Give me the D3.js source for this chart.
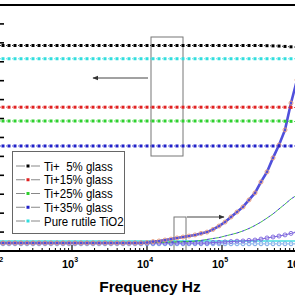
<!DOCTYPE html>
<html><head><meta charset="utf-8">
<script src="https://cdn.jsdelivr.net/npm/d3@7"></script>
<style>html,body{margin:0;padding:0;background:#fff;overflow:hidden}svg{display:block}</style>
</head><body>
<script>
// ---------- data ----------
const logF = [2.00,2.08,2.16,2.24,2.32,2.40,2.48,2.56,2.64,2.72,2.80,2.88,2.96,3.04,3.12,3.20,3.28,3.36,3.44,3.52,3.60,3.68,3.76,3.84,3.92,4.00,4.08,4.16,4.24,4.32,4.40,4.48,4.56,4.64,4.72,4.80,4.88,4.96,5.04,5.12,5.20,5.28,5.36,5.44,5.52,5.60,5.68,5.76,5.84,5.92,6.00];
const legendLabels = ["Ti+  5% glass","Ti+15% glass","Ti+25% glass","Ti+35% glass","Pure rutile TiO2"];
const seriesColors = ["#000000","#e02020","#2ed02e","#2020c8","#30dede"];
const eps5  = [108.6,108.6,108.6,108.6,108.6,108.6,108.6,108.6,108.6,108.6,108.6,108.6,108.6,108.6,108.6,108.6,108.6,108.6,108.6,108.6,108.6,108.6,108.6,108.6,108.6,108.6,108.6,108.6,108.6,108.6,108.6,108.6,108.6,108.6,108.6,108.6,108.6,108.6,108.6,108.6,108.6,108.6,108.6,108.6,108.6,108.5,108.4,108.3,108.1,107.9,107.7];
const eps15 = [76.0,76.0,76.0,76.0,76.0,76.0,76.0,76.0,76.0,76.0,76.0,76.0,76.0,76.0,76.0,76.0,76.0,76.0,76.0,76.0,76.0,76.0,76.0,76.0,76.0,76.0,76.0,76.0,76.0,76.0,76.0,76.0,76.0,76.0,76.0,76.0,76.0,76.0,76.0,76.0,76.0,76.0,76.0,76.0,76.0,76.0,76.0,76.0,76.0,75.9,75.8];
const eps25 = [68.7,68.7,68.7,68.7,68.7,68.7,68.7,68.7,68.7,68.7,68.7,68.7,68.7,68.7,68.7,68.7,68.7,68.7,68.7,68.7,68.7,68.7,68.7,68.7,68.7,68.7,68.7,68.7,68.7,68.7,68.7,68.7,68.7,68.7,68.7,68.7,68.7,68.7,68.7,68.7,68.7,68.7,68.7,68.7,68.7,68.7,68.7,68.7,68.6,68.5,68.4];
const eps35 = [55.5,55.5,55.5,55.5,55.5,55.5,55.5,55.5,55.5,55.5,55.5,55.5,55.5,55.5,55.5,55.5,55.5,55.5,55.5,55.5,55.5,55.5,55.5,55.5,55.5,55.5,55.5,55.5,55.5,55.5,55.5,55.5,55.5,55.5,55.5,55.5,55.5,55.5,55.5,55.5,55.5,55.5,55.5,55.5,55.5,55.5,55.5,55.5,55.5,55.5,55.5];
const epsRut = [101.6,101.6,101.6,101.6,101.6,101.6,101.6,101.6,101.6,101.6,101.6,101.6,101.6,101.6,101.6,101.6,101.6,101.6,101.6,101.6,101.6,101.6,101.6,101.6,101.6,101.6,101.6,101.6,101.6,101.6,101.6,101.6,101.6,101.6,101.6,101.6,101.6,101.6,101.6,101.6,101.6,101.6,101.6,101.6,101.6,101.6,101.6,101.6,101.6,101.6,101.6];
// lower (loss) curves
const lossA = [4.2,4.2,4.2,4.2,4.2,4.2,4.2,4.2,4.2,4.2,4.2,4.2,4.2,4.2,4.2,4.2,4.2,4.2,4.2,4.2,4.2,4.2,4.2,4.2,4.3,4.5,5.0,5.3,5.8,6.3,6.9,7.4,7.9,8.5,9.3,10.0,11.4,13.2,15.3,18.0,20.6,23.3,27.0,30.7,36.5,41.8,49.2,56.0,64.0,78.2,90.4];
const lossB = [4.2,4.2,4.2,4.2,4.2,4.2,4.2,4.2,4.2,4.2,4.2,4.2,4.2,4.2,4.2,4.2,4.2,4.2,4.2,4.2,4.2,4.2,4.2,4.2,4.2,4.3,4.4,4.5,4.6,4.7,4.8,4.9,5.0,5.2,5.6,6.1,6.6,7.1,7.9,8.7,9.5,10.6,11.9,13.5,15.3,17.4,19.6,22.2,24.8,27.5,29.6];
const lossC = [4.2,4.2,4.2,4.2,4.2,4.2,4.2,4.2,4.2,4.2,4.2,4.2,4.2,4.2,4.2,4.2,4.2,4.2,4.2,4.2,4.2,4.2,4.2,4.2,4.2,4.2,4.2,4.2,4.2,4.2,4.2,4.2,4.2,4.2,4.2,4.2,4.5,4.6,4.8,5.0,5.2,5.3,5.6,5.8,6.3,6.9,7.4,7.9,8.5,9.3,10.0];
const lossD = [5.3,5.3,5.3,5.3,5.3,5.3,5.3,5.3,5.3,5.3,5.3,5.3,5.3,5.3,5.3,5.3,5.3,5.3,5.3,5.3,5.3,5.3,5.3,5.3,5.3,5.3,5.3,5.3,5.3,5.3,5.3,5.3,5.3,5.3,5.3,5.3,5.3,5.3,5.3,5.3,5.3,5.3,5.3,5.3,5.3,5.3,5.3,5.3,5.3,5.3,5.3];
const lossE = [3.8,3.8,3.8,3.8,3.8,3.8,3.8,3.8,3.8,3.8,3.8,3.8,3.8,3.8,3.8,3.8,3.8,3.8,3.8,3.8,3.8,3.8,3.8,3.8,3.8,3.8,3.8,3.8,3.8,3.8,3.8,3.8,3.8,3.8,3.8,3.8,3.8,3.8,3.8,3.8,3.8,3.8,3.8,3.8,3.8,3.8,3.8,3.8,3.8,3.8,3.8];
const xMajorExp = [2,3,4,5,6];
const yTickVals = [0,10,20,30,40,50,60,70,80,90,100,110,120,130];
const xTitle = "Frequency Hz";

// ---------- layout ----------
const W = 295, H = 295;
const svg = d3.select("body").append("svg").attr("width", W).attr("height", H);
const freq = logF.map(e => Math.pow(10, e));
const x = d3.scaleLog().domain([1e2, 1e6]).range([-3, 297]);
const y = d3.scaleLinear().domain([0, 130]).range([251, 5]);

// left ticks (inward)
svg.append("g").selectAll("line").data(yTickVals).join("line")
  .attr("x1", -2).attr("x2", 4).attr("y1", d => y(d)).attr("y2", d => y(d))
  .attr("stroke", "#000").attr("stroke-width", 1.6);

// x minor/major ticks (inward)
const minor = [];
for (let e = 2; e < 6; e++) for (let m = 2; m <= 9; m++) minor.push(m * Math.pow(10, e));
svg.append("g").selectAll("line").data(minor).join("line")
  .attr("x1", d => x(d)).attr("x2", d => x(d)).attr("y1", 251).attr("y2", 248)
  .attr("stroke", "#000").attr("stroke-width", 1);
svg.append("g").selectAll("line").data(xMajorExp).join("line")
  .attr("x1", d => x(Math.pow(10, d))).attr("x2", d => x(Math.pow(10, d))).attr("y1", 251).attr("y2", 245)
  .attr("stroke", "#000").attr("stroke-width", 1.2);

// annotations (rectangles + arrows)
const defs = svg.append("defs");
defs.append("marker").attr("id", "ah").attr("viewBox", "0 0 10 10").attr("refX", 9).attr("refY", 5)
  .attr("markerWidth", 6).attr("markerHeight", 6).attr("orient", "auto-start-reverse")
  .append("path").attr("d", "M0,1 L10,5 L0,9 Z").attr("fill", "#333");
svg.append("rect").attr("x", 151).attr("y", 37).attr("width", 32).attr("height", 119)
  .attr("fill", "none").attr("stroke", "#777").attr("stroke-width", 1);
svg.append("line").attr("x1", 148).attr("y1", 78).attr("x2", 93).attr("y2", 78)
  .attr("stroke", "#444").attr("stroke-width", 1).attr("marker-end", "url(#ah)");
svg.append("rect").attr("x", 174).attr("y", 217).attr("width", 12).attr("height", 34)
  .attr("fill", "none").attr("stroke", "#777").attr("stroke-width", 1);
svg.append("line").attr("x1", 187).attr("y1", 217).attr("x2", 224).attr("y2", 217)
  .attr("stroke", "#444").attr("stroke-width", 1).attr("marker-end", "url(#ah)");

const line = d3.line().x((d, i) => x(freq[i])).y(d => y(d));
defs.append("clipPath").attr("id", "pc").append("rect").attr("x", -3).attr("y", 5).attr("width", 300).attr("height", 246);
const plot = svg.append("g").attr("clip-path", "url(#pc)");

// lower curves
function circles(data, color, r) {
  plot.append("g").selectAll("circle").data(data).join("circle")
    .attr("cx", (d, i) => x(freq[i])).attr("cy", d => y(d)).attr("r", r)
    .attr("fill", "none").attr("stroke", color).attr("stroke-width", 0.9);
}
plot.append("path").datum(lossD).attr("d", line).attr("fill", "none").attr("stroke", "#44e0e0").attr("stroke-width", 1.5);
plot.append("path").datum(lossE).attr("d", line).attr("fill", "none").attr("stroke", "#9cc4ee").attr("stroke-width", 0.8);
circles(lossE, "#6a9ee6", 2);
plot.append("path").datum(lossC).attr("d", line).attr("fill", "none").attr("stroke", "#7a62dc").attr("stroke-width", 1);
circles(lossC, "#7a62dc", 2);
plot.append("path").datum(lossB).attr("d", line).attr("fill", "none").attr("stroke", "#3a3ad0").attr("stroke-width", 1).attr("stroke-dasharray", "3,3");
plot.append("path").datum(lossB).attr("d", line).attr("fill", "none").attr("stroke", "#40c840").attr("stroke-width", 1).attr("stroke-dasharray", "3,3").attr("stroke-dashoffset", 3);
plot.append("path").datum(lossA).attr("d", line).attr("fill", "none").attr("stroke", "#5050dc").attr("stroke-width", 2.6);
circles(lossA, "#e89a78", 2);

// upper flat series
const upper = [eps5, eps15, eps25, eps35, epsRut];
upper.forEach((s, k) => {
  plot.append("path").datum(s).attr("d", line).attr("fill", "none").attr("stroke", seriesColors[k])
    .attr("stroke-width", 1).attr("stroke-dasharray", "1,2").attr("opacity", 0.8);
  plot.append("g").selectAll("rect").data(s).join("rect")
    .attr("x", (d, i) => x(freq[i]) - 1.5).attr("y", d => y(d) - 1.5).attr("width", 3).attr("height", 3)
    .attr("fill", seriesColors[k]);
});

// frame lines
svg.append("line").attr("x1", -3).attr("x2", 298).attr("y1", 5).attr("y2", 5).attr("stroke", "#000").attr("stroke-width", 2);
svg.append("line").attr("x1", -3).attr("x2", 298).attr("y1", 251).attr("y2", 251).attr("stroke", "#000").attr("stroke-width", 2);

// x tick labels
const tl = svg.append("g").selectAll("text").data(xMajorExp).join("text")
  .attr("x", d => x(Math.pow(10, d)) - 2).attr("y", 268).attr("text-anchor", "middle")
  .attr("font-family", "Arial, 'Liberation Sans', sans-serif").attr("font-weight", "bold").attr("font-size", 11);
tl.append("tspan").text("10");
tl.append("tspan").attr("dy", -6).attr("font-size", 7).text(d => d);

svg.append("text").attr("x", 150).attr("y", 292).attr("text-anchor", "middle")
  .attr("font-family", "Arial, 'Liberation Sans', sans-serif").attr("font-weight", "bold").attr("font-size", 15.5)
  .text(xTitle);

// legend
const lg = svg.append("g");
lg.append("rect").attr("x", 12.5).attr("y", 151.5).attr("width", 112).attr("height", 82)
  .attr("fill", "#fff").attr("stroke", "#666").attr("stroke-width", 1);
const legendOrder = [0, 1, 2, 3, 4];
const ly = d3.scaleLinear().domain([0, 4]).range([166, 221]);
const items = lg.selectAll("g").data(legendOrder).join("g").attr("transform", d => `translate(0,${ly(d)})`);
items.append("line").attr("x1", 16).attr("x2", 25).attr("y1", 0).attr("y2", 0).attr("stroke", "#888").attr("stroke-width", 1);
items.append("line").attr("x1", 31).attr("x2", 40).attr("y1", 0).attr("y2", 0).attr("stroke", "#888").attr("stroke-width", 1);
items.append("rect").attr("x", 26.5).attr("y", -1.5).attr("width", 3).attr("height", 3).attr("fill", d => seriesColors[d]);
items.append("text").attr("transform", "translate(44,4.6) scale(0.91,1)")
  .attr("font-family", "Arial, 'Liberation Sans', sans-serif").attr("font-size", 12.6).attr("fill", "#000")
  .attr("xml:space", "preserve").style("white-space", "pre")
  .text(d => legendLabels[d]);
</script>
</body></html>
